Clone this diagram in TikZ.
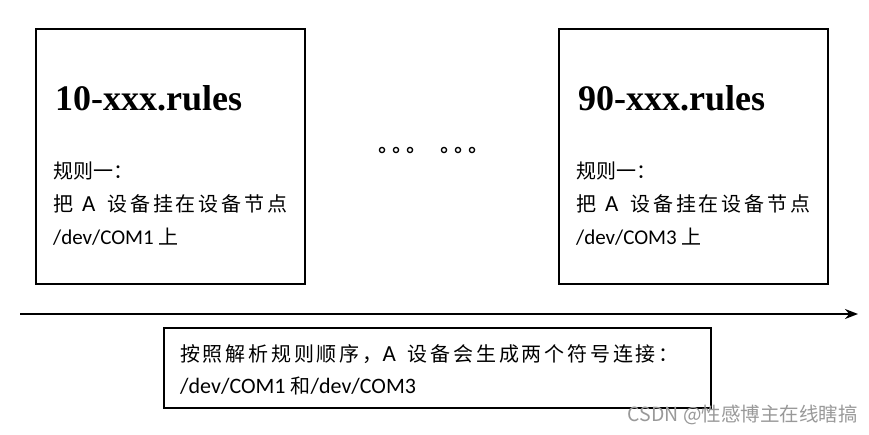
\documentclass[tikz,border=0pt]{standalone}
\usepackage{fontspec}
\setmainfont{Liberation Serif}
\newfontfamily\cjk[LetterSpace=14]{Noto Sans CJK SC}
\newfontfamily\cjktight{Noto Sans CJK SC}
\newfontfamily\lat{Carlito}
\usetikzlibrary{
    arrows.meta,
    positioning
}
\tikzset{
    rulesttl/.style={anchor=base west, inner sep=0pt, font=\fontsize{36}{36}\selectfont\bfseries},
    cjkline/.style={anchor=base west, inner sep=0pt, font=\fontsize{20}{20}\selectfont},
    framebox/.style={line width=1.3pt},
    timeline/.style={line width=1.6pt, -{Stealth[length=13pt, width=10pt]}}
}
\newcommand{\latx}[2]{{\lat\fontsize{#1}{#1}\selectfont #2}}
\newcommand{\rulesbox}[4]{
    \begin{scope}[shift={(#2, 0)}]
        \draw[framebox] (0, 29) rectangle (269, 284);
        \node[rulesttl] (#1ttl) at (19, 111) {#3};
        \node[cjkline] (#1a) at (17, 179) {\cjktight 规则一：};
        \node[cjkline] (#1b) at (17, 212) {{\cjk 把}\hspace{9pt}\latx{23}{A}\hspace{12pt}{\cjk 设备挂在设备节点}};
        \node[cjkline] (#1c) at (17, 245) {\latx{21}{#4}\hspace{5pt}{\cjktight 上}};
    \end{scope}
}

\begin{document}
\begin{tikzpicture}[x=1pt, y=-1pt]
    \useasboundingbox (0, 0) rectangle (869, 435);
    \rulesbox{first}{36}{10-xxx.rules}{/dev/COM1}
    \rulesbox{last}{559}{90-xxx.rules}{/dev/COM3}
    % dots between the two files
    \foreach \dx in {382, 396, 410, 444, 458, 472}
        \draw[line width=1.3pt] (\dx, 150) circle (2.6);
    % parse order
    \coordinate (tstart) at (20, 314);
    \coordinate (tend) at (858, 314);
    \draw[timeline] (tstart) -- (tend);
    \draw[framebox] (164, 328) rectangle (711, 408);
    \node[cjkline] (resa) at (180, 361) {{\cjk 按照解析规则顺序，}\latx{23}{A}\hspace{12pt}{\cjk 设备会生成两个符号连接：}};
    \node[cjkline] (resb) at (180, 393) {\latx{22}{/dev/COM1}\hspace{5pt}{\cjktight 和}\latx{22}{/dev/COM3}};
    \node[anchor=base east, inner sep=0pt, text=black!40, font=\cjktight\fontsize{19.5}{19.5}\selectfont] (mark) at (858, 421) {CSDN @性感博主在线瞎搞};
\end{tikzpicture}
\end{document}
